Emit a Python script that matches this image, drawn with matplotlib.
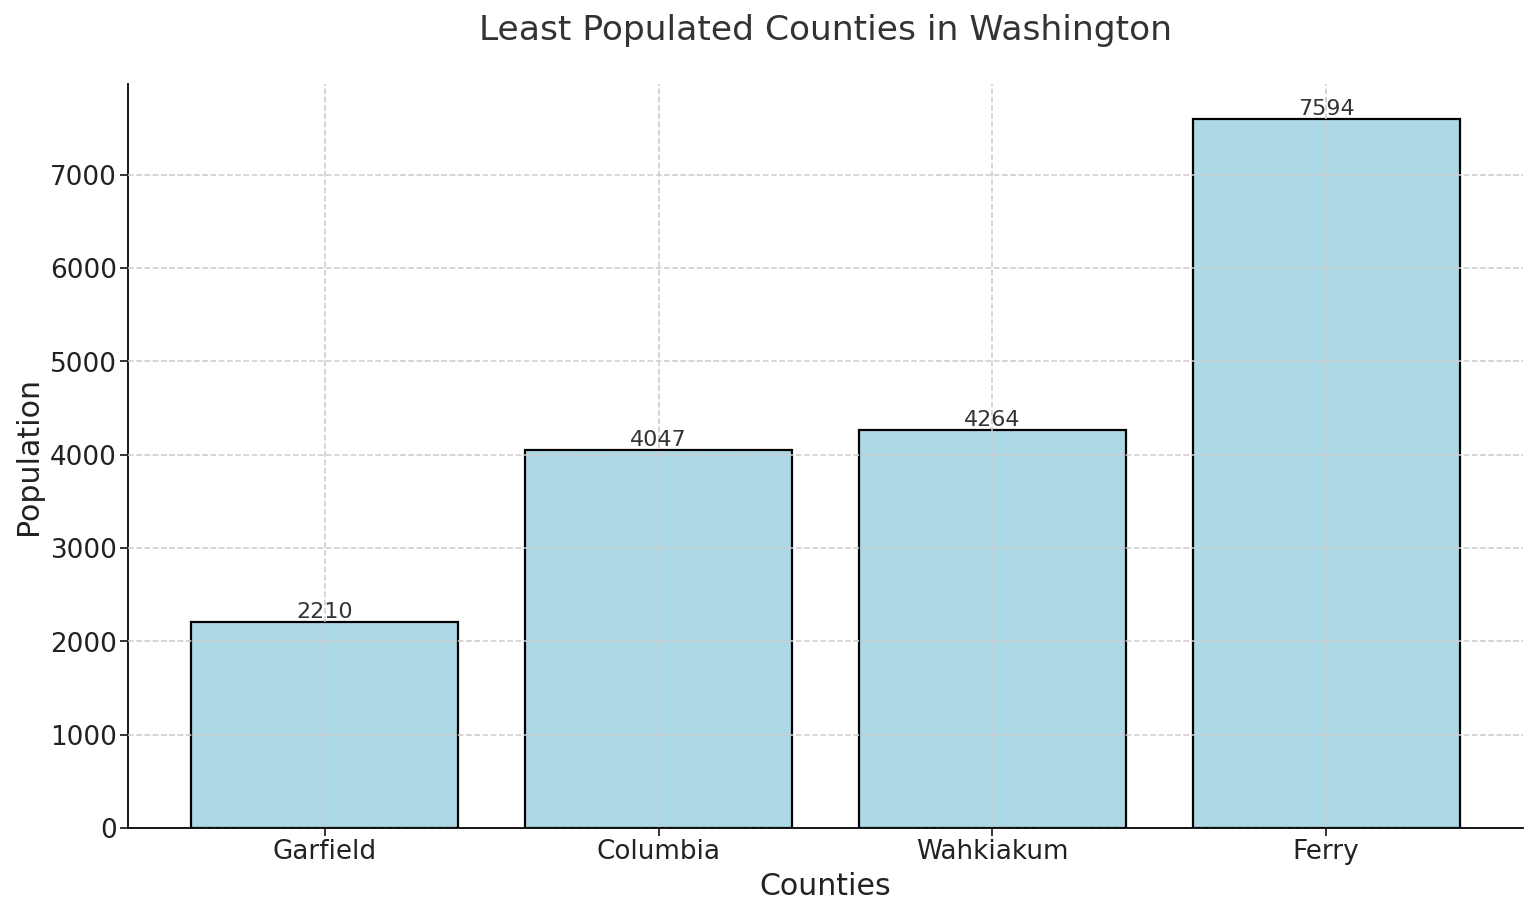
import matplotlib
matplotlib.use("Agg")
import matplotlib.pyplot as plt

# data
counties = ["Garfield", "Columbia", "Wahkiakum", "Ferry"]
population = [2210, 4047, 4264, 7594]

fig, ax = plt.subplots(figsize=(9.6, 5.72), dpi=160)
fig.subplots_adjust(left=0.0833, right=0.9915, top=0.9082, bottom=0.0951)

bars = ax.bar(counties, population, color="lightblue", edgecolor="black", linewidth=1.0, zorder=1)

# value labels on top of bars
for bar, val in zip(bars, population):
    ax.text(bar.get_x() + bar.get_width() / 2, bar.get_height(), str(val),
            ha="center", va="bottom", fontsize=10, color="#333333", zorder=3)

ax.set_title("Least Populated Counties in Washington", fontsize=15.5, color="#333333", pad=20)
ax.set_xlabel("Counties", fontsize=13.5, color="#222222", labelpad=3)
ax.set_ylabel("Population", fontsize=13.5, color="#222222", labelpad=3)
ax.tick_params(labelsize=11.8, colors="#222222", pad=1.5)

ax.grid(True, linestyle="--", color="#cccccc", linewidth=0.7, zorder=2)
ax.set_axisbelow(False)

ax.spines["top"].set_visible(False)
ax.spines["right"].set_visible(False)
ax.spines["bottom"].set_zorder(4)

fig.savefig("out.png", dpi=160)
